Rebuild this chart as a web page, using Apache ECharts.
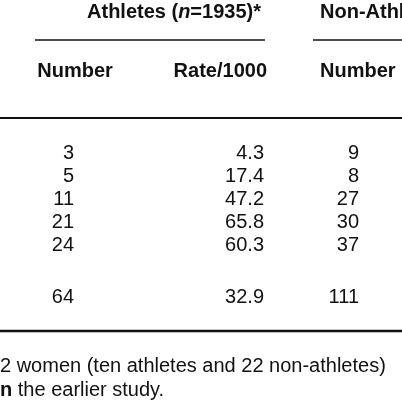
<!DOCTYPE html>
<html><head><meta charset="utf-8">
<script src="https://cdn.jsdelivr.net/npm/echarts@6/dist/echarts.min.js"></script>
<style>html,body{margin:0;padding:0;background:#fff}#c{width:402px;height:402px}</style>
</head><body><div id="c"></div>
<script>
const athNumber = ['3','5','11','21','24','64'];
const athRate = ['4.3','17.4','47.2','65.8','60.3','32.9'];
const nonNumber = ['9','8','27','30','37','111'];
const footnote = ['2 women (ten athletes and 22 non-athletes)', 'n the earlier study.'];
const rowY = [153,176,199,222,245,297];
const F = 'Liberation Sans, Arial, sans-serif';
const S = '20px ';
const g = [];
function txt(x,y,s,align,bold){g.push({type:'text',x:x,y:y,style:{text:s,fill:'#111',font:(bold?'bold ':'')+S+F,textAlign:align,textVerticalAlign:'middle'}});}
function ln(x1,y1,x2,y2,w){g.push({type:'line',shape:{x1:x1,y1:y1,x2:x2,y2:y2},style:{stroke:'#111',lineWidth:w}});}
g.push({type:'text',x:174,y:12,style:{rich:{b:{font:'bold '+S+F,fill:'#111'},i:{font:'bold italic '+S+F,fill:'#111'}},text:'{b|Athletes (}{i|n}{b|=1935)*}',textAlign:'center',textVerticalAlign:'middle'}});
txt(320,12,'Non-Athletes','left',true);
ln(35,40,265,40,1.5); ln(313,40,402,40,1.5);
txt(75,71,'Number','center',true);
txt(267,71,'Rate/1000','right',true);
txt(320,71,'Number','left',true);
ln(0,118,402,118,2);
rowY.forEach((y,i)=>{txt(74,y,athNumber[i],'right');txt(264,y,athRate[i],'right');txt(359,y,nonNumber[i],'right');});
ln(0,331,402,331,2.5);
txt(0,366,footnote[0],'left');
g.push({type:'text',x:0,y:390,style:{rich:{b:{font:'bold '+S+F,fill:'#111'},n:{font:S+F,fill:'#111'}},text:'{b|n}{n| the earlier study.}',textVerticalAlign:'middle'}});
const ch = echarts.init(document.getElementById('c'));
ch.setOption({animation:false,graphic:g});
</script></body></html>
